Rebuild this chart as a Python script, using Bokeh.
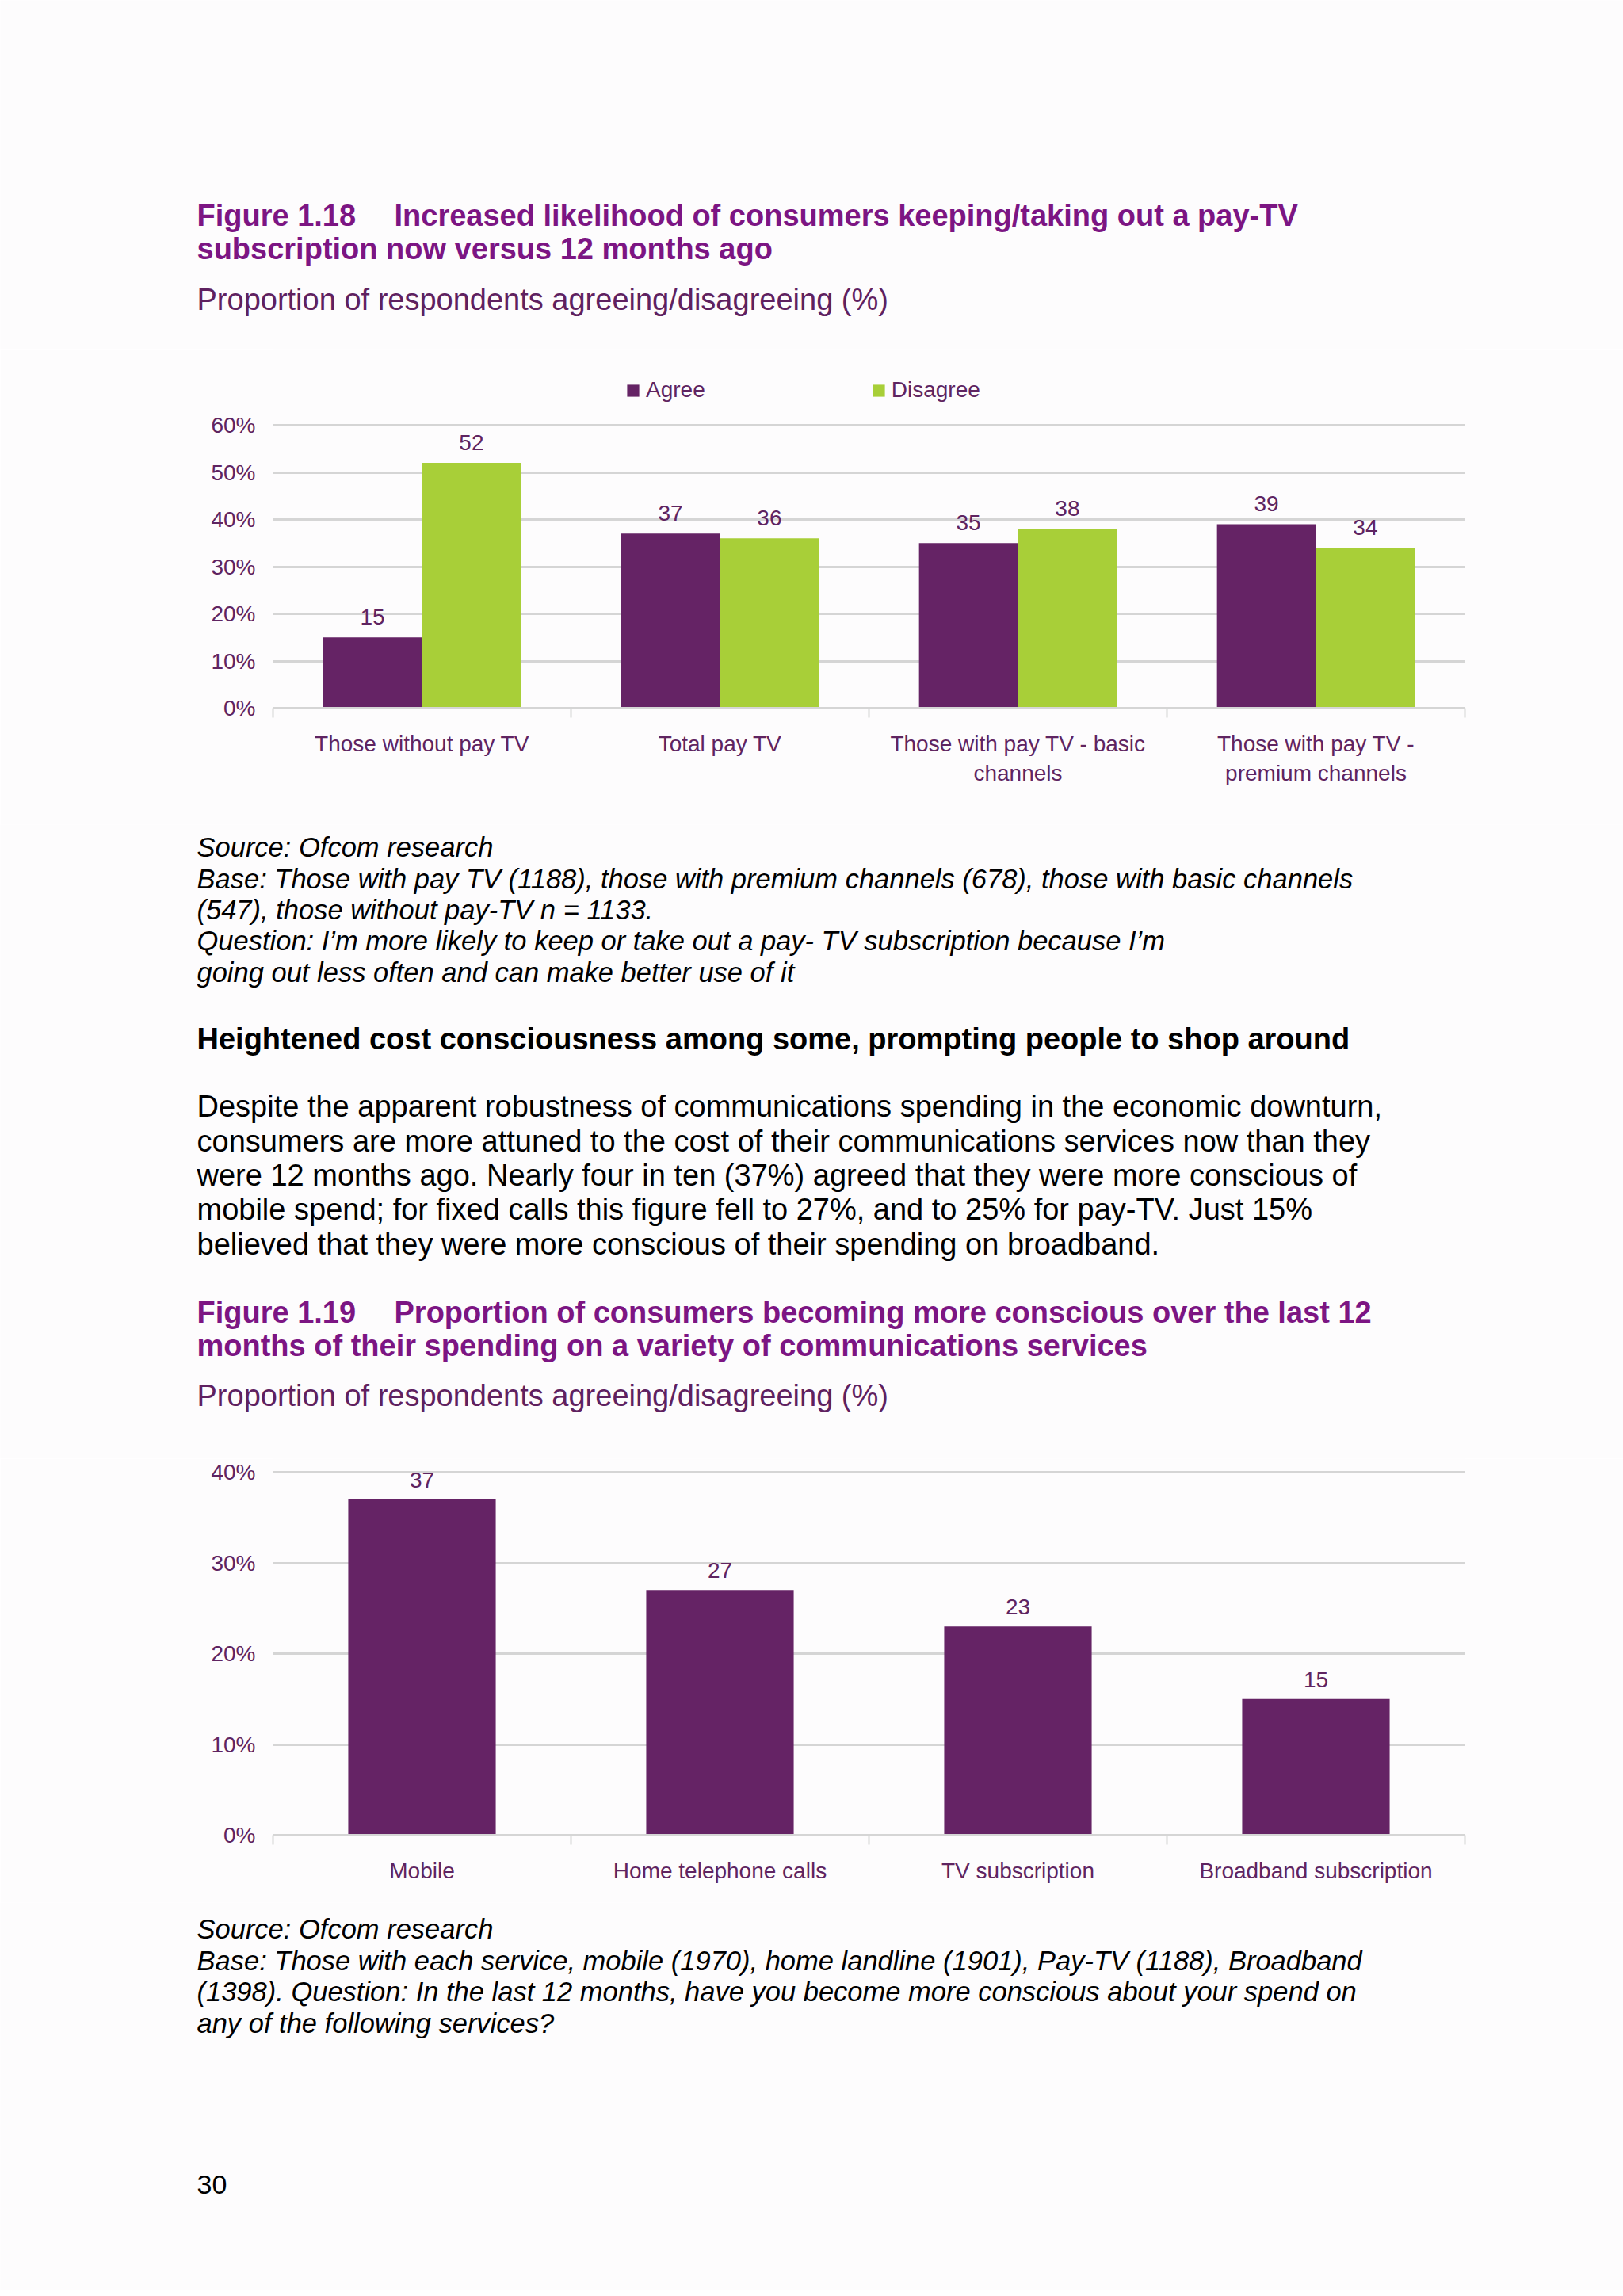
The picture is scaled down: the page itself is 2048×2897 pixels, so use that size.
from bokeh.plotting import figure
from bokeh.layouts import column
from bokeh.models import (Range1d, ColumnDataSource, LabelSet, Legend,
                          LegendItem, LinearAxis, FixedTicker)
from bokeh.transform import dodge
from bokeh.core.properties import value
from bokeh.embed import file_html
from bokeh.resources import INLINE

# ---------------- data ----------------
fig118_categories = ["Those without pay TV", "Total pay TV",
                     "Those with pay TV - basic\nchannels",
                     "Those with pay TV -\npremium channels"]
fig118_series = ["Agree", "Disagree"]
fig118_agree = [15, 37, 35, 39]
fig118_disagree = [52, 36, 38, 34]
fig118_yticks = [0, 10, 20, 30, 40, 50, 60]
fig118_ytick_labels = ["0%", "10%", "20%", "30%", "40%", "50%", "60%"]

fig119_categories = ["Mobile", "Home telephone calls", "TV subscription",
                     "Broadband subscription"]
fig119_values = [37, 27, 23, 15]
fig119_yticks = [0, 10, 20, 30, 40]
fig119_ytick_labels = ["0%", "10%", "20%", "30%", "40%"]

title118 = ["Figure 1.18",
            "Increased likelihood of consumers keeping/taking out a pay-TV",
            "subscription now versus 12 months ago"]
subtitle = "Proportion of respondents agreeing/disagreeing (%)"
source118 = ["Source: Ofcom research",
             "Base: Those with pay TV (1188), those with premium channels (678), those with basic channels",
             "(547), those without pay-TV n = 1133.",
             "Question: I\u2019m more likely to keep or take out a pay- TV subscription because I\u2019m",
             "going out less often and can make better use of it"]
heading = "Heightened cost consciousness among some, prompting people to shop around"
body = ["Despite the apparent robustness of communications spending in the economic downturn,",
        "consumers are more attuned to the cost of their communications services now than they",
        "were 12 months ago. Nearly four in ten (37%) agreed that they were more conscious of",
        "mobile spend; for fixed calls this figure fell to 27%, and to 25% for pay-TV. Just 15%",
        "believed that they were more conscious of their spending on broadband."]
title119 = ["Figure 1.19",
            "Proportion of consumers becoming more conscious over the last 12",
            "months of their spending on a variety of communications services"]
source119 = ["Source: Ofcom research",
             "Base: Those with each service, mobile (1970), home landline (1901), Pay-TV (1188), Broadband",
             "(1398). Question: In the last 12 months, have you become more conscious about your spend on",
             "any of the following services?"]
page_number = "30"

# ---------------- style ----------------
W = 2048
OFF = 0
FONT = "Liberation Sans"
BG = "#FDFCFD"
TITLE_C = "#7C1583"
SUB_C = "#5F2160"
CHART_TXT = "#5F2461"
PURPLE = "#652365"
GREEN = "#A8CF38"
GRID = "#D5D5D5"


def no_align(p):
    try:
        p.frame_align = False
    except AttributeError:
        pass


def text_fig(h):
    p = figure(width=W, height=h, x_range=Range1d(0, W), y_range=Range1d(h, 0),
               output_backend="svg", toolbar_location=None,
               x_axis_location=None, y_axis_location=None, min_border=0)
    p.grid.visible = False
    p.outline_line_color = None
    p.background_fill_color = BG
    p.border_fill_color = BG
    no_align(p)
    return p


def add_text(p, top, x, y, s, size, color="#000000", style="normal"):
    p.text(x=[x - OFF], y=[y - top], text=[s], text_font=value(FONT),
           text_font_size=size, text_color=color, text_font_style=style,
           text_baseline="alphabetic", text_align="left")


def chart_fig(height, ytop, cats, yticks, ylabels, border_bottom):
    n = len(cats)
    p = figure(width=W, height=height, x_range=Range1d(0, n),
               y_range=Range1d(0, ytop), output_backend="svg",
               toolbar_location=None, x_axis_location=None,
               min_border_left=344 - OFF, min_border_right=W - (1848 - OFF),
               min_border_top=0, min_border_bottom=border_bottom)
    p.outline_line_color = None
    p.background_fill_color = BG
    p.border_fill_color = BG
    p.xgrid.visible = False
    no_align(p)
    yax = p.yaxis[0]
    yax.ticker = FixedTicker(ticks=yticks)
    yax.major_label_overrides = dict(zip(yticks, ylabels))
    yax.axis_line_color = None
    yax.major_tick_line_color = None
    yax.minor_tick_line_color = None
    yax.major_tick_out = 0
    yax.major_tick_in = 0
    yax.major_label_standoff = 22
    yax.major_label_text_font = FONT
    yax.major_label_text_font_size = "28px"
    yax.major_label_text_color = CHART_TXT
    p.ygrid.grid_line_color = GRID
    p.ygrid.grid_line_width = 3

    # category names at centres, small tick marks at category boundaries
    centers = [i + 0.5 for i in range(n)]
    cax = LinearAxis(ticker=FixedTicker(ticks=centers,
                                        minor_ticks=list(range(n + 1))))
    cax.major_label_overrides = dict(zip(centers, cats))
    cax.axis_line_color = GRID
    cax.axis_line_width = 3
    cax.major_tick_line_color = None
    cax.major_tick_out = 0
    cax.major_tick_in = 0
    cax.minor_tick_line_color = GRID
    cax.minor_tick_line_width = 2
    cax.minor_tick_out = 12
    cax.minor_tick_in = 0
    cax.major_label_standoff = 17
    cax.major_label_text_font = FONT
    cax.major_label_text_font_size = "28px"
    cax.major_label_text_color = CHART_TXT
    cax.major_label_text_line_height = 1.2
    p.add_layout(cax, "below")
    return p


# ---------------- header 1 ----------------
T1 = 0
f1 = text_fig(440)
add_text(f1, T1, 248, 271, title118[0], "38px", TITLE_C, "bold")
add_text(f1, T1, 497, 271, title118[1], "38px", TITLE_C, "bold")
add_text(f1, T1, 248, 313, title118[2], "38px", TITLE_C, "bold")
add_text(f1, T1, 248, 377, subtitle, "38px", SUB_C)

# ---------------- chart 1 ----------------
c1 = chart_fig(600, (893 - 440) / 5.95, fig118_categories, fig118_yticks,
               fig118_ytick_labels, 147)
src1 = ColumnDataSource(dict(pos=[i + 0.5 for i in range(len(fig118_categories))],
                             agree=fig118_agree, disagree=fig118_disagree,
                             agree_txt=[str(v) for v in fig118_agree],
                             disagree_txt=[str(v) for v in fig118_disagree]))
r_ag = c1.vbar(x=dodge("pos", -0.166), top="agree", width=0.332,
               source=src1, fill_color=PURPLE, line_color=None)
r_dis = c1.vbar(x=dodge("pos", 0.166), top="disagree", width=0.332,
                source=src1, fill_color=GREEN, line_color=None)
for fld, off in (("agree", -0.166), ("disagree", 0.166)):
    c1.add_layout(LabelSet(x=dodge("pos", off), y=fld,
                           text=fld + "_txt", source=src1, text_align="center",
                           text_baseline="alphabetic", y_offset=16,
                           text_font=value(FONT), text_font_size="28px",
                           text_color=CHART_TXT))
legend = Legend(items=[LegendItem(label=fig118_series[0], renderers=[r_ag]),
                       LegendItem(label=fig118_series[1], renderers=[r_dis])],
                orientation="horizontal", location=(445, 385),
                glyph_width=19, glyph_height=19, label_standoff=7, spacing=209,
                padding=0, margin=0, border_line_color=None,
                background_fill_alpha=0, label_text_font=FONT,
                label_text_font_size="28px", label_text_color=CHART_TXT)
c1.add_layout(legend)

# ---------------- middle text ----------------
T3 = 1040
f3 = text_fig(800)
for s, yb in zip(source118, [1068, 1108, 1147, 1186, 1226]):
    add_text(f3, T3, 248, yb, s, "34.5px", "#000000", "italic")
add_text(f3, T3, 248, 1310, heading, "38px", "#000000", "bold")
for s, yb in zip(body, [1395, 1439, 1482, 1525, 1569]):
    add_text(f3, T3, 248, yb, s, "38px", "#000000")
add_text(f3, T3, 248, 1655, title119[0], "38px", TITLE_C, "bold")
add_text(f3, T3, 497, 1655, title119[1], "38px", TITLE_C, "bold")
add_text(f3, T3, 248, 1697, title119[2], "38px", TITLE_C, "bold")
add_text(f3, T3, 248, 1760, subtitle, "38px", SUB_C)

# ---------------- chart 2 ----------------
c2 = chart_fig(560, (2315 - 1840) / 11.45, fig119_categories, fig119_yticks,
               fig119_ytick_labels, 85)
src2 = ColumnDataSource(dict(pos=[i + 0.5 for i in range(len(fig119_categories))],
                             val=fig119_values,
                             txt=[str(v) for v in fig119_values]))
c2.vbar(x="pos", top="val", width=0.495, source=src2, fill_color=PURPLE,
        line_color=None)
c2.add_layout(LabelSet(x="pos", y="val", text="txt", source=src2,
                       text_align="center", text_baseline="alphabetic",
                       y_offset=15, text_font=value(FONT), text_font_size="28px",
                       text_color=CHART_TXT))

# ---------------- bottom text ----------------
T5 = 2400
f5 = text_fig(490)
for s, yb in zip(source119, [2433, 2473, 2512, 2552]):
    add_text(f5, T5, 248, yb, s, "34.5px", "#000000", "italic")
add_text(f5, T5, 248, 2756, page_number, "34px", "#000000")

page = column(f1, c1, f3, c2, f5, spacing=0)
open("out.html", "w").write(file_html(page, INLINE))
